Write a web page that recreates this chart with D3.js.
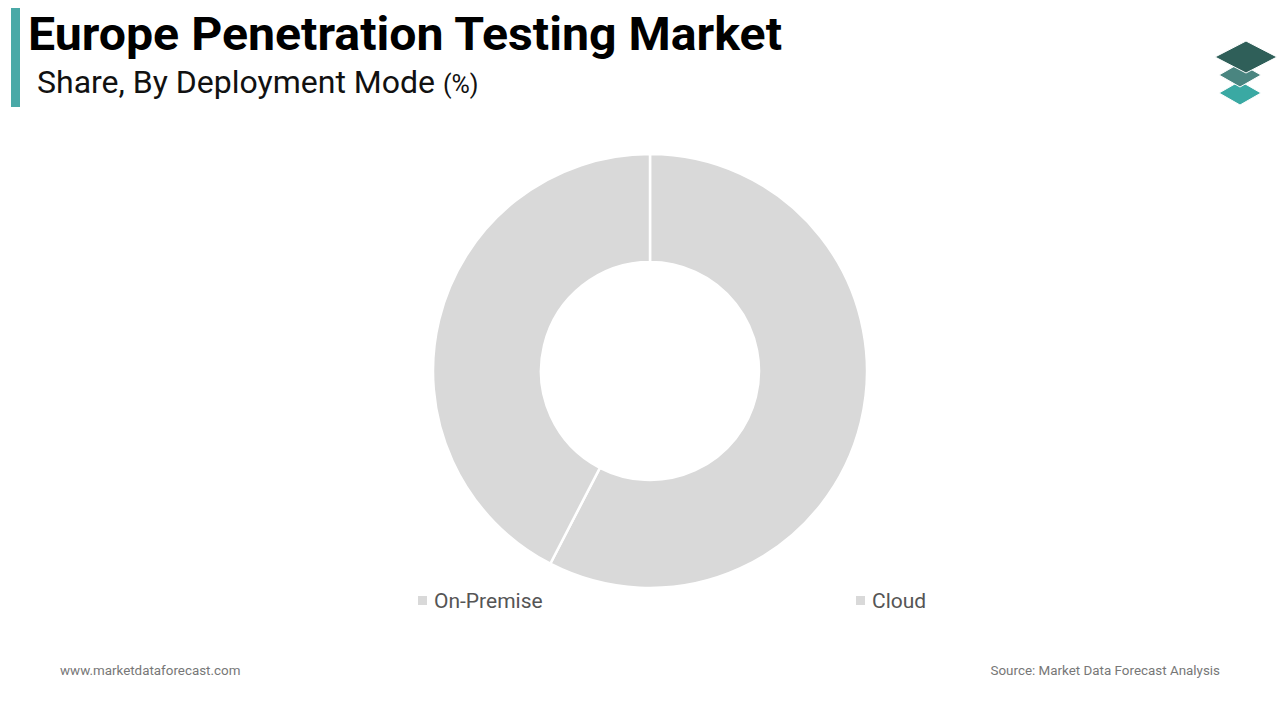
<!DOCTYPE html>
<html><head><meta charset="utf-8">
<script src="https://cdn.jsdelivr.net/npm/d3@7"></script>
<style>
html,body{margin:0;padding:0;background:#fff;}
svg{display:block;font-family:Roboto, "Noto Sans", sans-serif;}
</style></head>
<body><svg id="c" width="1280" height="720"></svg>
<script>
const categories = ["On-Premise", "Cloud"];
const shares = [57.6, 42.4];
const colors = ["#d9d9d9", "#d9d9d9"];

const svg = d3.select("#c");

// accent bar
svg.append("rect").attr("x", 11).attr("y", 8).attr("width", 9).attr("height", 99).attr("fill", "#4aa9a7");

svg.append("text").attr("x", 28).attr("y", 50)
  .attr("font-size", 47).attr("font-weight", 700).attr("fill", "#000")
  .attr("textLength", 754).attr("lengthAdjust", "spacingAndGlyphs")
  .text("Europe Penetration Testing Market");
const sub = svg.append("text").attr("x", 37).attr("y", 93).attr("font-size", 32).attr("fill", "#111");
sub.append("tspan").text("Share, By Deployment Mode ");
sub.append("tspan").attr("font-size", 25).text("(%)");

// logo
const logo = svg.append("g");
const layers = [
  {cy: 93, fill: "#3aa9a3"},
  {cy: 75, fill: "#4a8580"},
  {cy: 57, fill: "#2f5f59"}
];
layers.forEach((l, i) => {
  const w = i === 2 ? 31 : 21, h = i === 2 ? 16 : 12, cx = i === 2 ? 1246 : 1240;
  logo.append("polygon")
    .attr("points", [[cx, l.cy - h], [cx + w, l.cy], [cx, l.cy + h], [cx - w, l.cy]].map(p => p.join(",")).join(" "))
    .attr("fill", l.fill).attr("stroke", "#fff").attr("stroke-width", 1);
});

// donut
const cx = 650, cy = 371, outerR = 217, innerR = 109;
const pie = d3.pie().sort(null).value(d => d)(shares);
const arc = d3.arc().innerRadius(innerR).outerRadius(outerR);
svg.append("g").attr("transform", `translate(${cx},${cy})`)
  .selectAll("path").data(pie).join("path")
  .attr("d", arc).attr("fill", (d, i) => colors[i])
  .attr("stroke", "#fff").attr("stroke-width", 2.5);

// legend
const legendX = d3.scalePoint().domain(categories).range([418, 856]);
const lg = svg.append("g").selectAll("g").data(categories).join("g")
  .attr("transform", d => `translate(${legendX(d)},0)`);
lg.append("rect").attr("x", 0).attr("y", 596).attr("width", 9).attr("height", 9).attr("fill", (d, i) => colors[i]);
lg.append("text").attr("x", 16).attr("y", 608).attr("font-size", 21).attr("fill", "#555").text(d => d);

// footer
svg.append("text").attr("x", 60).attr("y", 675).attr("font-size", 13.4).attr("fill", "#777").text("www.marketdataforecast.com");
svg.append("text").attr("x", 1220).attr("y", 675).attr("font-size", 13.4).attr("fill", "#777").attr("text-anchor", "end").text("Source: Market Data Forecast Analysis");
</script></body></html>
